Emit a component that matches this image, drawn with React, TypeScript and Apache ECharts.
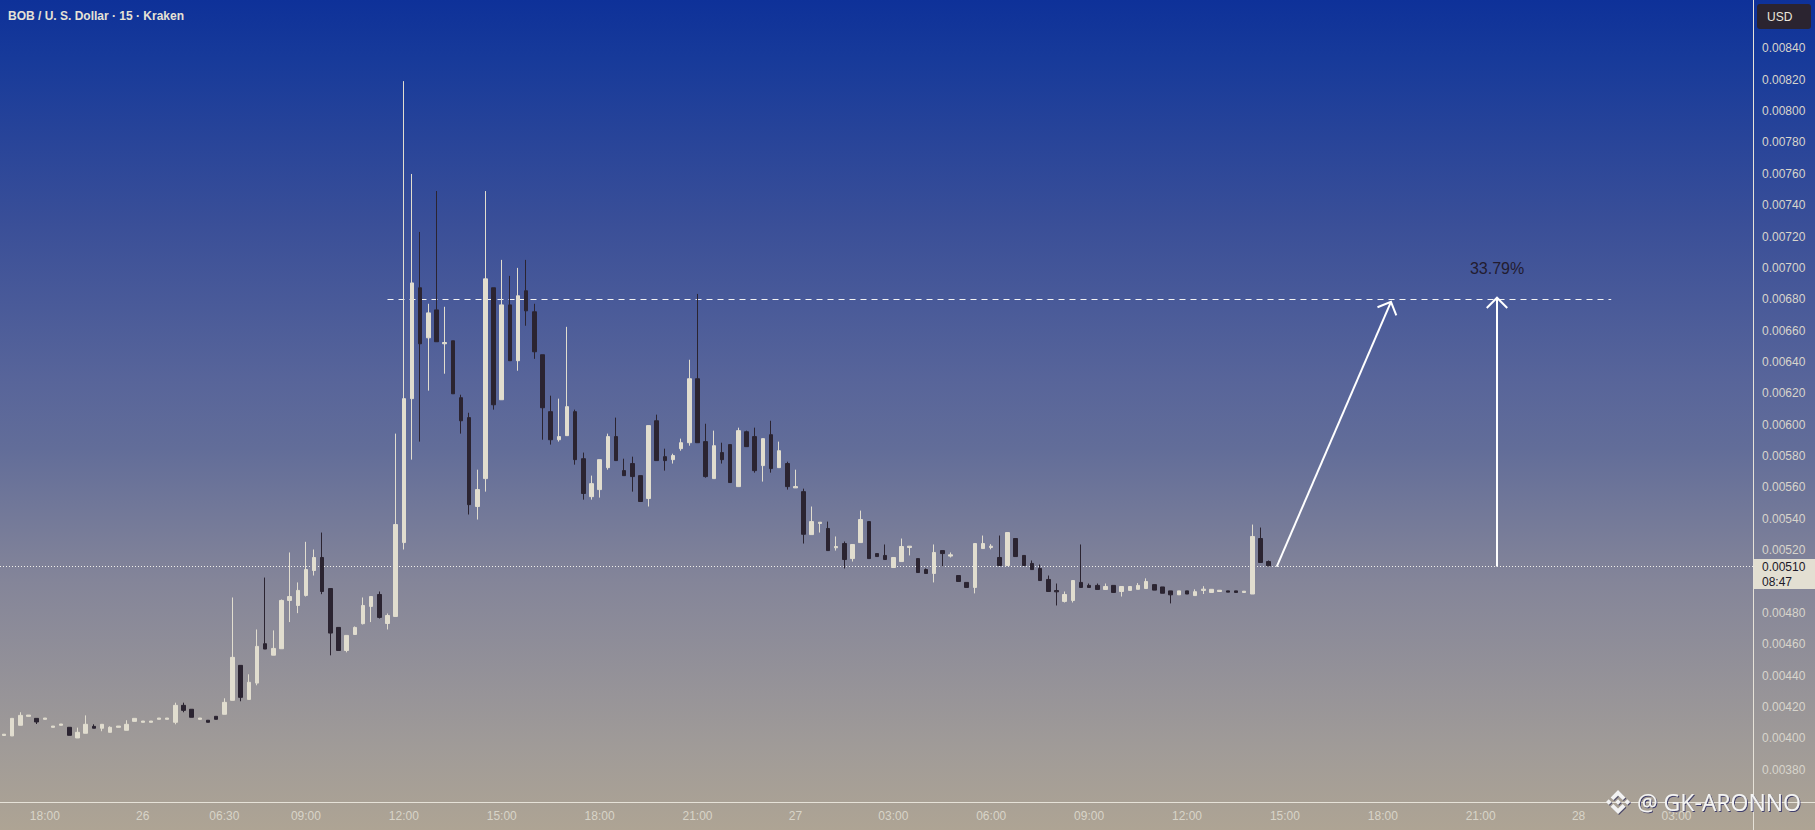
import React, { useEffect, useRef } from 'react';
import * as echarts from 'echarts';

// ---------- data (prices in units of 0.00001 USD) ----------
const TITLE = 'BOB / U. S. Dollar · 15 · Kraken';
const BAR_SLOTS = 215;
const TICK_LABELS: [number, string][] = [
  [5, '18:00'], [17, '26'], [27, '06:30'], [37, '09:00'], [49, '12:00'], [61, '15:00'],
  [73, '18:00'], [85, '21:00'], [97, '27'], [109, '03:00'], [121, '06:00'], [133, '09:00'],
  [145, '12:00'], [157, '15:00'], [169, '18:00'], [181, '21:00'], [193, '28'], [205, '03:00'],
];
const OPEN = [
  401.8, 401.5, 408.3, 414.0, 412.7, 412.1, 407.0, 408.3, 407.0, 400.2, 403.2, 407.6, 406.4, 403.8, 407.0, 405.1,
  410.8, 410.2, 410.2, 412.1, 412.1, 410.2, 421.0, 418.5, 412.1, 411.5, 414.0, 415.3, 424.2, 446.5, 424.8, 435.2,
  460.3, 453.0, 457.1, 487.9, 484.7, 491.1, 507.0, 515.3, 495.5, 470.7, 456.0, 466.2, 473.1, 484.1, 491.7, 473.2,
  477.7, 524.8, 616.6, 687.3, 655.4, 673.2, 651.6, 653.5, 617.2, 604.5, 547.8, 565.6, 687.3, 615.9, 676.4, 640.8,
  685.4, 672.0, 644.6, 608.3, 590.4, 593.0, 608.3, 578.3, 554.1, 558.6, 572.6, 592.4, 570.7, 575.2, 567.5, 552.9,
  602.5, 579.6, 577.7, 584.7, 588.5, 629.3, 589.2, 565.6, 582.2, 587.3, 560.5, 595.5, 592.4, 573.9, 593.6, 572.6,
  575.2, 559.7, 557.3, 529.9, 537.0, 533.8, 521.5, 524.2, 514.6, 524.8, 538.2, 517.8, 516.6, 508.9, 512.7, 521.7,
  514.6, 507.6, 505.1, 519.7, 516.2, 503.8, 499.4, 496.2, 521.0, 521.7, 515.3, 510.2, 527.4, 516.6, 511.5, 508.3,
  501.3, 494.2, 487.3, 487.9, 499.4, 497.5, 497.5, 494.9, 497.5, 493.6, 494.3, 495.0, 495.5, 498.0, 496.5, 494.0,
  491.5, 494.0, 491.0, 494.3, 493.0, 493.6, 494.0, 494.0, 493.0, 492.0, 527.4, 512.7,
];
const CLOSE = [
  402.6, 412.7, 414.6, 414.8, 410.4, 412.9, 407.8, 409.1, 401.9, 403.8, 408.9, 406.4, 408.9, 407.0, 407.8, 408.9,
  412.7, 411.0, 411.0, 412.9, 412.9, 421.0, 417.8, 413.4, 412.9, 410.2, 412.1, 422.9, 451.6, 426.1, 435.7, 458.6,
  456.9, 457.3, 487.9, 490.4, 494.3, 507.6, 515.3, 493.6, 467.1, 456.0, 465.6, 470.7, 484.7, 490.4, 477.1, 478.3,
  536.3, 616.6, 690.4, 651.6, 671.3, 652.9, 652.4, 619.7, 602.5, 549.0, 558.6, 693.0, 612.7, 676.4, 640.8, 682.2,
  672.6, 646.5, 610.8, 590.4, 592.4, 611.5, 577.7, 556.1, 562.4, 577.7, 592.4, 577.1, 567.5, 566.9, 551.0, 599.4,
  577.1, 577.1, 580.3, 588.5, 629.3, 588.5, 566.9, 586.6, 577.7, 563.1, 596.2, 586.0, 570.7, 591.1, 572.0, 583.4,
  560.5, 560.5, 530.1, 538.2, 537.8, 519.7, 522.3, 514.0, 523.6, 539.5, 514.6, 515.9, 514.0, 515.3, 522.3, 522.5,
  505.7, 505.1, 518.5, 517.8, 517.0, 500.0, 496.2, 524.2, 524.2, 522.5, 510.2, 531.2, 515.9, 510.2, 507.6, 500.6,
  493.6, 493.4, 491.7, 500.6, 496.2, 496.2, 494.9, 496.8, 493.0, 496.8, 496.8, 497.5, 500.0, 494.5, 492.5, 491.5,
  494.0, 492.0, 493.5, 495.1, 495.0, 494.4, 493.2, 493.0, 493.8, 528.7, 512.1, 510.0,
];
const LOW = [
  401.8, 401.5, 408.3, 414.0, 409.1, 412.1, 407.0, 408.3, 401.9, 400.2, 403.2, 406.4, 404.5, 403.8, 407.0, 405.1,
  410.8, 410.2, 410.2, 412.1, 412.1, 408.9, 416.6, 413.4, 412.1, 410.2, 412.1, 415.3, 424.2, 423.6, 424.8, 433.8,
  456.9, 453.0, 457.1, 474.1, 479.8, 490.4, 503.8, 491.9, 452.9, 456.0, 454.8, 466.2, 472.6, 474.1, 476.4, 469.4,
  477.7, 520.4, 577.7, 589.2, 621.7, 652.9, 632.5, 619.7, 594.3, 542.7, 539.5, 557.3, 609.6, 615.9, 640.8, 634.4,
  663.1, 642.0, 590.4, 587.3, 589.2, 593.0, 574.5, 552.2, 552.2, 553.5, 571.3, 577.1, 567.5, 557.3, 551.0, 547.8,
  577.1, 570.7, 575.2, 583.4, 586.6, 588.5, 566.2, 565.6, 575.2, 563.1, 560.5, 586.0, 569.4, 563.7, 569.4, 572.6,
  558.6, 559.7, 524.2, 529.9, 531.2, 519.7, 519.7, 508.3, 512.7, 524.8, 514.6, 515.9, 514.0, 508.9, 512.7, 516.6,
  505.7, 505.1, 499.4, 509.6, 515.3, 500.0, 496.2, 492.4, 521.0, 520.5, 510.2, 510.2, 515.9, 510.2, 507.6, 500.6,
  493.6, 484.7, 486.6, 486.6, 496.2, 496.2, 494.9, 494.9, 493.0, 490.4, 494.3, 495.0, 495.5, 494.5, 492.5, 486.0,
  491.5, 492.0, 491.0, 492.0, 493.0, 493.6, 493.2, 493.0, 493.0, 492.0, 512.1, 510.0,
];
const HIGH = [
  402.6, 412.7, 416.6, 414.8, 412.7, 412.9, 407.8, 409.1, 407.0, 406.8, 414.6, 408.9, 408.9, 407.6, 407.8, 411.5,
  412.7, 411.0, 411.0, 412.9, 412.9, 422.7, 422.7, 418.5, 412.9, 411.5, 414.0, 425.5, 489.8, 446.5, 440.8, 469.4,
  502.5, 468.8, 488.5, 518.5, 499.4, 525.3, 520.4, 531.2, 495.5, 470.7, 465.6, 471.3, 489.8, 490.4, 493.6, 479.6,
  594.3, 819.1, 759.9, 722.9, 677.1, 749.0, 675.2, 653.5, 619.1, 607.6, 571.3, 749.0, 687.3, 705.1, 694.9, 700.0,
  705.1, 677.1, 644.6, 618.5, 616.6, 662.4, 609.6, 582.2, 567.5, 577.7, 594.3, 604.5, 578.3, 579.6, 567.5, 599.4,
  606.4, 584.7, 581.5, 591.1, 641.4, 683.4, 600.6, 596.2, 588.5, 587.3, 598.1, 596.2, 598.1, 591.1, 602.5, 589.2,
  576.4, 571.3, 559.2, 547.8, 537.8, 538.2, 528.7, 525.5, 523.6, 545.2, 538.2, 517.8, 523.6, 515.3, 527.4, 522.5,
  514.6, 508.3, 523.6, 519.7, 518.5, 503.8, 499.4, 524.2, 529.3, 523.8, 529.3, 531.2, 527.4, 516.6, 513.4, 510.8,
  503.8, 498.7, 493.6, 500.6, 523.6, 498.7, 498.7, 498.7, 497.5, 496.8, 496.8, 499.0, 502.0, 498.0, 496.5, 494.0,
  494.0, 494.0, 495.0, 497.0, 495.0, 494.4, 494.0, 494.0, 493.8, 536.3, 534.4, 513.4,
];
const Y_MIN = 360;
const Y_MAX = 860;
const Y_STEP = 20;
const LAST_PRICE = 510;
const LAST_PRICE_TEXT = '0.00510';
const COUNTDOWN = '08:47';
const TARGET_PRICE = 680;
const TARGET_LINE_RANGE = [47, 197];
const ARROW_DIAGONAL: [number, number][] = [[156, 509.5], [170, 678.3]];
const ARROW_VERTICAL: [number, number][] = [[183, 509.5], [183, 681]];
const PERCENT_TEXT = '33.79%';
const WATERMARK = '@ GK-ARONNO';

// ---------- styling ----------
const FONT = "'Liberation Sans', Arial, sans-serif";
const UP = '#e1ddcf';
const DOWN = '#2b2431';
const GRID_LEFT = 0;
const GRID_RIGHT = 61;
const GRID_TOP = 17;
const GRID_HEIGHT = 784;

const BINANCE_D =
  'M63.32,48.78L77.83,63.3L63.32,77.79L48.82,63.28Z' +
  'M38.73,53.2L63.32,28.62L87.92,53.22L102.22,38.91L63.32,0L24.42,38.9Z' +
  'M0,63.31L14.3,49L28.61,63.31L14.31,77.6Z' +
  'M38.73,73.41L63.32,98L87.92,73.4L102.23,87.7L63.32,126.61L24.42,87.72Z' +
  'M98,63.31L112.3,49.01L126.61,63.31L112.3,77.61Z';
echarts.graphic.registerShape('logo', echarts.graphic.extendPath(BINANCE_D, {}));

function chevron(s: number[], p: number[], len = 14.5) {
  const dx = p[0] - s[0];
  const dy = p[1] - s[1];
  const L = Math.hypot(dx, dy);
  const bx = -dx / L;
  const by = -dy / L;
  const c = Math.SQRT1_2;
  const a1 = [p[0] + len * (bx * c - by * c), p[1] + len * (bx * c + by * c)];
  const a2 = [p[0] + len * (bx * c + by * c), p[1] + len * (-bx * c + by * c)];
  return [a1, p, a2];
}

export default function App() {
  const ref = useRef<HTMLDivElement>(null);
  useEffect(() => {
    if (!ref.current) return;
    const chart = echarts.init(ref.current, undefined, { renderer: 'svg' });
    const slots = Array.from({ length: BAR_SLOTS }, (_, i) => String(i));
    const labelMap: Record<number, string> = {};
    TICK_LABELS.forEach(([i, l]) => (labelMap[i] = l));
    const candles = OPEN.map((o, i) => [o, CLOSE[i], LOW[i], HIGH[i]]);

    chart.setOption({
      animation: false,
      backgroundColor: 'transparent',
      grid: { left: GRID_LEFT, right: GRID_RIGHT, top: GRID_TOP, height: GRID_HEIGHT },
      xAxis: {
        type: 'category',
        data: slots,
        boundaryGap: true,
        axisLine: { show: false },
        axisTick: { show: false },
        splitLine: { show: false },
        axisLabel: {
          interval: (index: number) => labelMap[index] !== undefined,
          formatter: (_v: string, index: number) => labelMap[index] ?? '',
          color: '#d8d4c8',
          fontSize: 12,
          fontFamily: FONT,
          margin: 9,
        },
      },
      yAxis: {
        type: 'value',
        position: 'right',
        min: Y_MIN,
        max: Y_MAX,
        interval: Y_STEP,
        axisLine: { show: false },
        axisTick: { show: false },
        splitLine: { show: false },
        axisLabel: {
          formatter: (v: number) =>
            v < 380 || v > 840 || v === 500 ? '' : (v / 1e5).toFixed(5),
          color: '#d8d5cc',
          fontSize: 12,
          fontFamily: FONT,
          margin: 8,
        },
      },
      series: [
        {
          type: 'candlestick',
          data: candles,
          barWidth: 4,
          itemStyle: {
            color: UP,
            color0: DOWN,
            borderColor: UP,
            borderColor0: DOWN,
            borderWidth: 1,
          },
          silent: true,
        },
      ],
    });

    const px = (i: number, v: number) =>
      chart.convertToPixel({ gridIndex: 0 }, [i, v]) as number[];
    const yLast = Math.round(px(0, LAST_PRICE)[1]) + 0.5;
    const yTarget = Math.round(px(0, TARGET_PRICE)[1]) + 0.5;
    const tStart = px(TARGET_LINE_RANGE[0], TARGET_PRICE);
    const tEnd = px(TARGET_LINE_RANGE[1], TARGET_PRICE);
    const d0 = px(ARROW_DIAGONAL[0][0], ARROW_DIAGONAL[0][1]);
    const d1 = px(ARROW_DIAGONAL[1][0], ARROW_DIAGONAL[1][1]);
    const v0 = px(ARROW_VERTICAL[0][0], ARROW_VERTICAL[0][1]);
    const v1 = px(ARROW_VERTICAL[1][0], ARROW_VERTICAL[1][1]);
    const plotRight = 1815 - GRID_RIGHT;

    const white = '#ffffff';
    chart.setOption({
      graphic: [
        // frame lines
        { type: 'line', silent: true, shape: { x1: plotRight - 0.5, y1: 0, x2: plotRight - 0.5, y2: 830 }, style: { stroke: '#e6e2d8', lineWidth: 1 } },
        { type: 'line', silent: true, shape: { x1: 0, y1: 802.5, x2: 1815, y2: 802.5 }, style: { stroke: '#e6e2d8', lineWidth: 1 } },
        // last price dotted line
        { type: 'line', silent: true, shape: { x1: 0, y1: yLast, x2: plotRight, y2: yLast }, style: { stroke: '#f0efea', lineWidth: 1, lineDash: [1, 2] } },
        // target dashed line
        { type: 'line', silent: true, shape: { x1: tStart[0], y1: yTarget, x2: tEnd[0], y2: yTarget }, style: { stroke: '#f4f4f4', lineWidth: 1, lineDash: [6, 5] } },
        // diagonal arrow
        { type: 'line', silent: true, shape: { x1: d0[0], y1: d0[1], x2: d1[0], y2: d1[1] }, style: { stroke: white, lineWidth: 2 } },
        { type: 'polyline', silent: true, shape: { points: chevron(d0, d1) }, style: { stroke: white, lineWidth: 2, fill: 'none' } },
        // vertical arrow
        { type: 'line', silent: true, shape: { x1: Math.round(v0[0]), y1: v0[1], x2: Math.round(v1[0]), y2: v1[1] }, style: { stroke: white, lineWidth: 2 } },
        { type: 'polyline', silent: true, shape: { points: chevron([Math.round(v0[0]), v0[1]], [Math.round(v1[0]), v1[1]]) }, style: { stroke: white, lineWidth: 2, fill: 'none' } },
        {
          type: 'text', silent: true, x: v1[0], y: v1[1] - 29,
          style: { text: PERCENT_TEXT, fill: '#221c30', font: `16px ${FONT}`, align: 'center', verticalAlign: 'middle' },
        },
        // title
        {
          type: 'text', silent: true, x: 8, y: 15.5,
          style: { text: TITLE, fill: '#e6e2d6', font: `bold 12px ${FONT}`, align: 'left', verticalAlign: 'middle' },
        },
        // USD box
        { type: 'rect', silent: true, z: 100, shape: { x: 1757, y: 4, width: 54, height: 25, r: 3 }, style: { fill: '#2b2430' } },
        {
          type: 'text', silent: true, z: 101, x: 1767, y: 16.5,
          style: { text: 'USD', fill: '#ebe7dd', font: `12px ${FONT}`, align: 'left', verticalAlign: 'middle' },
        },
        // last price box
        { type: 'rect', silent: true, z: 100, shape: { x: plotRight, y: yLast - 7.5, width: 1815 - plotRight, height: 30 }, style: { fill: '#e3dfd2' } },
        {
          type: 'text', silent: true, z: 101, x: plotRight + 8, y: yLast,
          style: { text: LAST_PRICE_TEXT, fill: '#1b1828', font: `12px ${FONT}`, align: 'left', verticalAlign: 'middle' },
        },
        {
          type: 'text', silent: true, z: 101, x: plotRight + 8, y: yLast + 15,
          style: { text: COUNTDOWN, fill: '#1b1828', font: `12px ${FONT}`, align: 'left', verticalAlign: 'middle' },
        },
        // watermark
        { type: 'logo', silent: true, z: 102, x: 1606, y: 790, scaleX: 0.19, scaleY: 0.19, style: { fill: '#f2f2f2', shadowColor: 'rgba(40,40,90,0.7)', shadowOffsetX: 1, shadowOffsetY: 1 } },
        {
          type: 'text', silent: true, z: 102, x: 1637, y: 802,
          style: {
            text: WATERMARK, fill: '#f4f4f4', font: `23px 'Open Sans', ${FONT}`, align: 'left', verticalAlign: 'middle',
            textShadowColor: 'rgba(40,40,100,0.8)', textShadowOffsetX: 1, textShadowOffsetY: 1, textShadowBlur: 1,
          },
        },
      ],
    });

    return () => chart.dispose();
  }, []);

  return (
    <div
      style={{
        position: 'fixed',
        left: 0,
        top: 0,
        width: 1815,
        height: 830,
        background:
          'linear-gradient(to bottom, #0e3199 0%, #173a9a 7%, #3a4f98 27%, #58659a 46%, #626d99 54%, #848599 70%, #a09b98 90%, #aea494 100%)',
      }}
    >
      <div ref={ref} style={{ width: 1815, height: 830 }} />
    </div>
  );
}
